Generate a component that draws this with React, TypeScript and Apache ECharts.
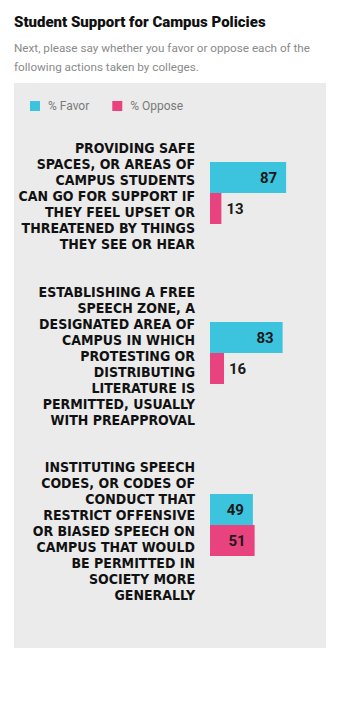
import React, { useEffect, useRef } from "react";
import * as echarts from "echarts";

const titleText = "Student Support for Campus Policies";
const subtitleLines = [
  "Next, please say whether you favor or oppose each of the",
  "following actions taken by colleges.",
];
const seriesNames = ["% Favor", "% Oppose"];
const categories = [
  "PROVIDING SAFE\nSPACES, OR AREAS OF\nCAMPUS STUDENTS\nCAN GO FOR SUPPORT IF\nTHEY FEEL UPSET OR\nTHREATENED BY THINGS\nTHEY SEE OR HEAR",
  "ESTABLISHING A FREE\nSPEECH ZONE, A\nDESIGNATED AREA OF\nCAMPUS IN WHICH\nPROTESTING OR\nDISTRIBUTING\nLITERATURE IS\nPERMITTED, USUALLY\nWITH PREAPPROVAL",
  "INSTITUTING SPEECH\nCODES, OR CODES OF\nCONDUCT THAT\nRESTRICT OFFENSIVE\nOR BIASED SPEECH ON\nCAMPUS THAT WOULD\nBE PERMITTED IN\nSOCIETY MORE\nGENERALLY",
];
const favor = [87, 83, 49];
const oppose = [13, 16, 51];

const CYAN = "#3cc3dd";
const PINK = "#e8437f";
const LABEL_FONT = "'DejaVu Sans Condensed', Roboto, sans-serif";
const UI_FONT = "Roboto, 'Noto Sans', sans-serif";

export default function App() {
  const ref = useRef<HTMLDivElement>(null);
  useEffect(() => {
    if (!ref.current) return;
    const chart = echarts.init(ref.current, null, { renderer: "svg" });
    const centers = [193, 353, 525];
    const labelShift = [2.5, 2.5, 5.5];
    const grids = centers.map((c) => ({
      left: 210,
      width: 87.5,
      top: c - 31,
      height: 62,
      containLabel: false,
    }));
    const xAxes = centers.map((_, i) => ({
      type: "value" as const,
      gridIndex: i,
      min: 0,
      max: 100,
      show: false,
    }));
    const yAxes = centers.map((_, i) => ({
      type: "category" as const,
      gridIndex: i,
      data: [categories[i]],
      axisLine: { show: false },
      axisTick: { show: false },
      splitLine: { show: false },
      axisLabel: {
        margin: 15,
        align: "right" as const,
        fontFamily: LABEL_FONT,
        fontWeight: "bold" as const,
        fontSize: 14,
        lineHeight: 16,
        color: "#111",
        formatter: (v: string) => `{s| }\n${v}`,
        rich: {
          s: { fontSize: 1, lineHeight: labelShift[i] * 2 - 16 > 0 ? labelShift[i] * 2 - 16 : labelShift[i] * 2 },
        },
      },
    }));
    const valueLabel = (v: number) => ({
      value: v,
      label:
        v < 30
          ? { position: "right" as const, distance: 5 }
          : { position: "insideRight" as const, distance: 9 },
    });
    const series: any[] = [];
    centers.forEach((_, i) => {
      [favor, oppose].forEach((arr, k) => {
        series.push({
          name: seriesNames[k],
          type: "bar",
          xAxisIndex: i,
          yAxisIndex: i,
          barWidth: 31,
          barGap: "0%",
          itemStyle: { color: k === 0 ? CYAN : PINK },
          label: {
            show: true,
            fontFamily: UI_FONT,
            fontWeight: "bold",
            fontSize: 15,
            color: "#1a1a1a",
          },
          data: [valueLabel(arr[i])],
        });
      });
    });
    chart.setOption({
      animation: false,
      backgroundColor: "#ffffff",
      grid: grids,
      xAxis: xAxes,
      yAxis: yAxes,
      legend: {
        data: seriesNames,
        left: 30,
        top: 100,
        padding: 0,
        itemWidth: 10,
        itemHeight: 10,
        itemGap: 23,
        icon: "rect",
        selectedMode: false,
        textStyle: {
          color: "#7a7a7a",
          fontSize: 12,
          fontFamily: UI_FONT,
          padding: [0, 0, 0, 3],
        },
      },
      graphic: [
        {
          type: "rect",
          silent: true,
          z: -10,
          shape: { x: 14, y: 83, width: 312, height: 565 },
          style: { fill: "#ebebeb" },
        },
        {
          type: "text",
          silent: true,
          style: {
            x: 14,
            y: 21.5,
            text: titleText,
            fill: "#111",
            font: `900 15px ${UI_FONT}`,
            verticalAlign: "middle",
          },
        },
        ...subtitleLines.map((t, i) => ({
          type: "text",
          silent: true,
          style: {
            x: 14,
            y: 47.5 + i * 19,
            text: t,
            fill: "#8a8a8a",
            font: `11.7px ${UI_FONT}`,
            verticalAlign: "middle",
          },
        })),
      ],
      series,
    });
    return () => chart.dispose();
  }, []);
  return (
    <div
      ref={ref}
      style={{ position: "fixed", left: 0, top: 0, width: 346, height: 713 }}
    />
  );
}
